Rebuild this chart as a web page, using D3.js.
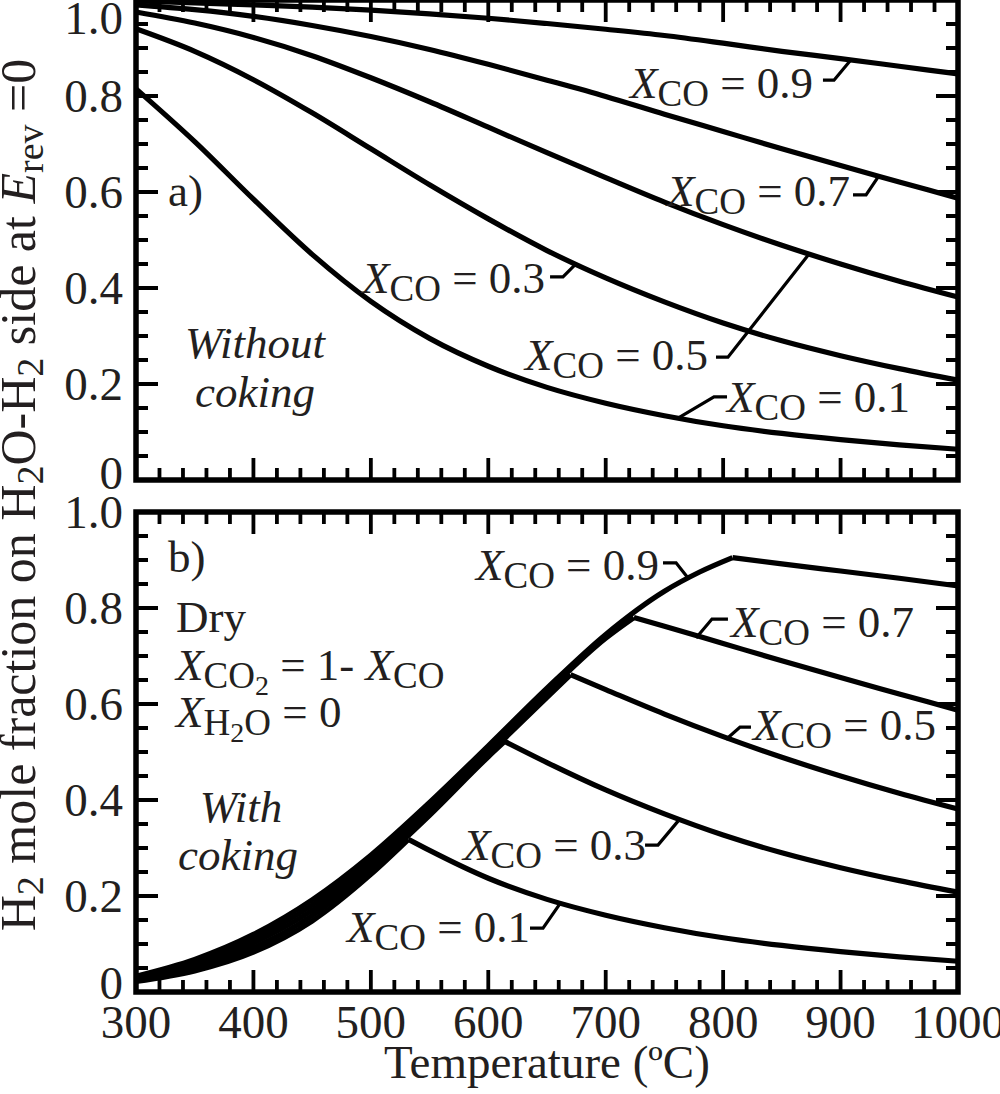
<!DOCTYPE html>
<html>
<head>
<meta charset="utf-8">
<script src="https://cdn.jsdelivr.net/npm/d3@7"></script>
<style>
    body { margin: 0; background: #fff; }
    svg { display: block; font-family: 'Liberation Serif', 'DejaVu Serif', serif; }
    text { fill: #231f20; white-space: pre; }
</style>
</head>
<body>
<div id="chart"></div>
<script>
// temperatures (ºC) for the panel without coking
const temps = [300, 350, 400, 450, 500, 550, 600, 650, 700, 750, 800, 850, 900, 950, 1000]

// a) without coking, H2 mole fraction for each X_CO
const topCO01 = [0.815, 0.705, 0.585, 0.47, 0.372, 0.295, 0.237, 0.193, 0.16, 0.134, 0.113, 0.097, 0.084, 0.073, 0.064]
const topCO03 = [0.94, 0.893, 0.834, 0.765, 0.69, 0.615, 0.544, 0.478, 0.421, 0.371, 0.327, 0.29, 0.259, 0.232, 0.208]
const topCO05 = [0.975, 0.952, 0.922, 0.884, 0.838, 0.788, 0.735, 0.682, 0.63, 0.579, 0.532, 0.489, 0.45, 0.414, 0.381]
const topCO07 = [0.99, 0.98, 0.966, 0.947, 0.924, 0.897, 0.866, 0.833, 0.799, 0.762, 0.726, 0.69, 0.655, 0.621, 0.587]
const topCO09 = [0.998, 0.994, 0.99, 0.985, 0.979, 0.971, 0.962, 0.951, 0.939, 0.926, 0.91, 0.893, 0.878, 0.862, 0.846]

// b) with coking (curves break at the coking limit)
const lowTemps01 = [300, 350, 400, 450, 500, 532, 550, 600, 650, 700, 750, 800, 850, 900, 950, 1000]
const lowCO01 = [0.022, 0.044, 0.083, 0.148, 0.245, 0.318, 0.295, 0.237, 0.193, 0.16, 0.134, 0.113, 0.097, 0.084, 0.073, 0.064]
const lowTemps03 = [300, 350, 400, 450, 500, 550, 600, 614, 650, 700, 750, 800, 850, 900, 950, 1000]
const lowCO03 = [0.025, 0.05, 0.092, 0.159, 0.255, 0.368, 0.49, 0.522, 0.478, 0.421, 0.371, 0.327, 0.29, 0.259, 0.232, 0.208]
const lowTemps05 = [300, 350, 400, 450, 500, 550, 600, 650, 670, 700, 750, 800, 850, 900, 950, 1000]
const lowCO05 = [0.028, 0.056, 0.102, 0.17, 0.265, 0.375, 0.495, 0.614, 0.661, 0.63, 0.579, 0.532, 0.489, 0.45, 0.414, 0.381]
const lowTemps07 = [300, 350, 400, 450, 500, 550, 600, 650, 700, 724, 750, 800, 850, 900, 950, 1000]
const lowCO07 = [0.03, 0.062, 0.111, 0.181, 0.275, 0.387, 0.505, 0.625, 0.737, 0.78, 0.762, 0.726, 0.69, 0.655, 0.621, 0.587]
const lowTemps09 = [300, 350, 400, 450, 500, 550, 600, 650, 700, 750, 780, 808, 850, 900, 950, 1000]
const lowCO09 = [0.033, 0.068, 0.12, 0.192, 0.285, 0.395, 0.513, 0.633, 0.745, 0.835, 0.875, 0.905, 0.892, 0.877, 0.862, 0.846]

const xTicks = ['300', '400', '500', '600', '700', '800', '900', '1000']
const yTicks = ['0', '0.2', '0.4', '0.6', '0.8', '1.0']

const w = 1000
const h = 1094

const svg = d3.select('#chart')
    .append('svg')
    .attr('width', w)
    .attr('height', h)

const x = d3.scaleLinear().domain([300, 1000]).range([136, 958])
const yTop = d3.scaleLinear().domain([0, 1]).range([480, 0])
const yLow = d3.scaleLinear().domain([0, 1]).range([992, 512])

const majorLen = 22
const minorLen = 12

function drawFrame(y) {
    const g = svg.append('g')
    const [x0, x1] = x.range()
    const [yb, yt] = y.range()

    const xMinor = d3.range(300, 1001, 20)
    const yMinor = d3.range(0, 21).map(i => i / 20)

    // ticks pointing inwards on all four sides
    g.selectAll('.xt')
        .data(xMinor)
        .enter()
        .append('path')
        .attr('d', d => {
            const len = d % 100 === 0 ? majorLen : minorLen
            return `M${x(d)},${yb}V${yb - len}M${x(d)},${yt}V${yt + len}`
        })
    g.selectAll('.yt')
        .data(yMinor)
        .enter()
        .append('path')
        .attr('d', (d, i) => {
            const len = i % 4 === 0 ? majorLen : minorLen
            return `M${x0},${y(d)}H${x0 + len}M${x1},${y(d)}H${x1 - len}`
        })
    g.selectAll('path')
        .attr('stroke', '#000')
        .attr('stroke-width', 3.8)
        .attr('fill', 'none')

    g.append('rect')
        .attr('x', x0)
        .attr('y', yt)
        .attr('width', x1 - x0)
        .attr('height', yb - yt)
        .attr('fill', 'none')
        .attr('stroke', '#000')
        .attr('stroke-width', 5.5)

    return g
}

function yLabels(y, shift) {
    svg.append('g')
        .selectAll('text')
        .data(yTicks)
        .enter()
        .append('text')
        .attr('x', 123)
        .attr('y', d => y(+d) + (shift[d] || 0))
        .attr('dy', '0.35em')
        .attr('text-anchor', 'end')
        .attr('font-size', 47)
        .text(d => d)
}

const line = d3.line()
    .x(d => x(d[0]))
    .y(d => d[1])
    .curve(d3.curveMonotoneX)

function drawCurve(y, ts, vs) {
    const pts = ts.map((t, i) => [t, y(vs[i])])
    // split at the coking break so the corner stays sharp
    const k = d3.maxIndex(vs)
    const parts = k > 0 && k < vs.length - 1 ? [pts.slice(0, k + 1), pts.slice(k)] : [pts]
    parts.forEach(p => {
        svg.append('path')
            .attr('d', line(p))
            .attr('fill', 'none')
            .attr('stroke', '#000')
            .attr('stroke-width', 5.2)
            .attr('stroke-linejoin', 'round')
    })
}

function leader(y, pts) {
    svg.append('path')
        .attr('d', d3.line()(pts.map(p => [x(p[0]), y(p[1])])))
        .attr('fill', 'none')
        .attr('stroke', '#000')
        .attr('stroke-width', 3.2)
}

function coLabel(y, t, v, val) {
    const txt = svg.append('text')
        .attr('x', x(t))
        .attr('y', y(v))
        .attr('font-size', 45)
    txt.append('tspan').attr('font-style', 'italic').text('X')
    txt.append('tspan').attr('dy', 8).attr('font-size', 37).text('CO')
    txt.append('tspan').attr('dy', -8).text(' = ' + val)
}

function plainText(y, t, v, str, italic, anchor) {
    svg.append('text')
        .attr('x', x(t))
        .attr('y', y(v))
        .attr('font-size', 45)
        .attr('font-style', italic ? 'italic' : 'normal')
        .attr('text-anchor', anchor || 'start')
        .text(str)
}

// panel a)
drawFrame(yTop)
yLabels(yTop, {'1.0': 18, '0': -7})
const topSeries = [topCO01, topCO03, topCO05, topCO07, topCO09]
topSeries.forEach(vs => drawCurve(yTop, temps, vs))

coLabel(yTop, 720.7, 0.796, '0.9')
leader(yTop, [[885, 0.833], [894.4, 0.833], [908, 0.873]])
coLabel(yTop, 752.2, 0.571, '0.7')
leader(yTop, [[910.6, 0.594], [921.7, 0.594], [931.9, 0.631]])
coLabel(yTop, 492.5, 0.39, '0.3')
leader(yTop, [[652.6, 0.423], [663.6, 0.423], [673.8, 0.448]])
coLabel(yTop, 631.3, 0.229, '0.5')
leader(yTop, [[793.9, 0.256], [804.1, 0.256], [872.3, 0.468]])
coLabel(yTop, 803.3, 0.142, '0.1')
leader(yTop, [[803.3, 0.173], [792.2, 0.173], [761.6, 0.129]])

plainText(yTop, 327.3, 0.571, 'a)')
plainText(yTop, 401.3, 0.254, 'Without', true, 'middle')
plainText(yTop, 401.3, 0.152, 'coking', true, 'middle')

// panel b)
drawFrame(yLow)
yLabels(yLow, {'0': -9})
drawCurve(yLow, lowTemps01, lowCO01)
drawCurve(yLow, lowTemps03, lowCO03)
drawCurve(yLow, lowTemps05, lowCO05)
drawCurve(yLow, lowTemps07, lowCO07)
drawCurve(yLow, lowTemps09, lowCO09)

coLabel(yLow, 589.5, 0.858, '0.9')
leader(yLow, [[748.8, 0.894], [759.9, 0.894], [770.1, 0.8625]])
coLabel(yLow, 806.7, 0.74, '0.7')
leader(yLow, [[804.1, 0.777], [790.5, 0.777], [776.9, 0.7375]])
coLabel(yLow, 825.4, 0.525, '0.5')
leader(yLow, [[823.7, 0.552], [814.4, 0.552], [802.4, 0.526]])
coLabel(yLow, 578.5, 0.275, '0.3')
leader(yLow, [[733.5, 0.306], [744.5, 0.306], [761.6, 0.356]])
coLabel(yLow, 479.7, 0.104, '0.1')
leader(yLow, [[635.5, 0.133], [646.6, 0.133], [661.1, 0.184]])

plainText(yLow, 327.3, 0.875, 'b)')
plainText(yLow, 334.1, 0.75, 'Dry')

const co2 = svg.append('text')
    .attr('x', x(334.1))
    .attr('y', yLow(0.65))
    .attr('font-size', 45)
co2.append('tspan').attr('font-style', 'italic').text('X')
co2.append('tspan').attr('dy', 8).attr('font-size', 37).text('CO')
co2.append('tspan').attr('dy', 7).attr('font-size', 28).text('2')
co2.append('tspan').attr('dy', -15).text(' = 1- ')
co2.append('tspan').attr('font-style', 'italic').text('X')
co2.append('tspan').attr('dy', 8).attr('font-size', 37).text('CO')

const h2o = svg.append('text')
    .attr('x', x(334.1))
    .attr('y', yLow(0.552))
    .attr('font-size', 45)
h2o.append('tspan').attr('font-style', 'italic').text('X')
h2o.append('tspan').attr('dy', 8).attr('font-size', 37).text('H')
h2o.append('tspan').attr('dy', 7).attr('font-size', 28).text('2')
h2o.append('tspan').attr('dy', -7).attr('font-size', 37).text('O')
h2o.append('tspan').attr('dy', -8).text(' = 0')

plainText(yLow, 389.4, 0.354, 'With', true, 'middle')
plainText(yLow, 386.9, 0.254, 'coking', true, 'middle')

// x axis labels
svg.append('g')
    .selectAll('text')
    .data(xTicks)
    .enter()
    .append('text')
    .attr('x', d => x(+d))
    .attr('y', 1038)
    .attr('text-anchor', 'middle')
    .attr('font-size', 47)
    .text(d => d)

svg.append('text')
    .attr('x', (x.range()[0] + x.range()[1]) / 2)
    .attr('y', 1078)
    .attr('text-anchor', 'middle')
    .attr('font-size', 47)
    .text('Temperature (ºC)')

// y axis title, rotated
const yt = svg.append('text')
    .attr('transform', 'translate(35,495) rotate(-90)')
    .attr('text-anchor', 'middle')
    .attr('font-size', 50)
yt.append('tspan').text('H')
yt.append('tspan').attr('dy', 8).attr('font-size', 38).text('2')
yt.append('tspan').attr('dy', -8).text(' mole fraction on H')
yt.append('tspan').attr('dy', 8).attr('font-size', 38).text('2')
yt.append('tspan').attr('dy', -8).text('O-H')
yt.append('tspan').attr('dy', 8).attr('font-size', 38).text('2')
yt.append('tspan').attr('dy', -8).text(' side at ')
yt.append('tspan').attr('font-style', 'italic').text('E')
yt.append('tspan').attr('dy', 8).attr('font-size', 38).text('rev')
yt.append('tspan').attr('dy', -8).text(' =0')
</script>
</body>
</html>
